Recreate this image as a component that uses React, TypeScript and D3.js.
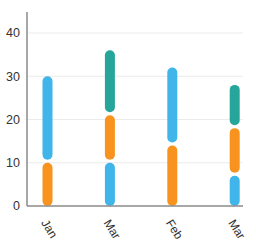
import React from "react";
import * as d3 from "d3";

const categories = ["Jan", "Mar", "Feb", "Mar"];
// stacked segments per category, bottom to top: [series, value]
const colors: Record<string, string> = { blue: "#3FB5EA", orange: "#F7931E", teal: "#26A69A" };
const stacks: [string, number][][] = [
  [["orange", 10], ["blue", 20]],
  [["blue", 10], ["orange", 11], ["teal", 15]],
  [["orange", 14], ["blue", 18]],
  [["blue", 7], ["orange", 11], ["teal", 10]],
];
const yTicks = [0, 10, 20, 30, 40];

export default function App() {
  const W = 256, H = 250;
  const axisX = 27, axisTop = 12, gridRight = 243;
  const y = d3.scaleLinear().domain([0, 40]).range([206, 33]);
  const x = d3.scalePoint<string>().domain(categories.map((_, i) => String(i))).range([47.5, 234.7]);
  const barW = 10, gap = 3;
  const font = "'Liberation Sans', Arial, sans-serif";

  const segs: { key: string; cx: number; top: number; bottom: number; color: string }[] = [];
  stacks.forEach((st, i) => {
    let acc = 0;
    st.forEach(([s, v], j) => {
      const start = acc, end = acc + v;
      acc = end;
      const bottom = start > 0 ? y(start) - gap : y(start);
      segs.push({ key: `${i}-${j}`, cx: x(String(i))!, top: y(end), bottom, color: colors[s] });
    });
  });

  return (
    <svg width={W} height={H} style={{ position: "absolute", left: 0, top: 0 }} fontFamily={font}>
      {yTicks.map((t) => (
        <g key={t}>
          {t > 0 && <line x1={axisX} x2={gridRight} y1={y(t)} y2={y(t)} stroke="#ebebeb" strokeWidth={1} />}
          <text x={20} y={y(t)} dy="0.35em" textAnchor="end" fontSize={12.5} fill="#333">{t}</text>
        </g>
      ))}
      {segs.map((s) => (
        <rect key={s.key} x={s.cx - barW / 2} y={s.top} width={barW} height={Math.max(0, s.bottom - s.top)} rx={barW / 2} ry={barW / 2} fill={s.color} />
      ))}
      <line x1={axisX} x2={axisX} y1={axisTop} y2={y(0)} stroke="#8a8a8a" strokeWidth={1.5} />
      <line x1={axisX} x2={gridRight} y1={y(0)} y2={y(0)} stroke="#8a8a8a" strokeWidth={1.5} />
      {categories.map((c, i) => (
        <text key={i} transform={`translate(${x(String(i))! - 4},${221}) rotate(58)`} fontSize={12} fill="#333" textAnchor="start" dominantBaseline="middle">{c}</text>
      ))}
    </svg>
  );
}
